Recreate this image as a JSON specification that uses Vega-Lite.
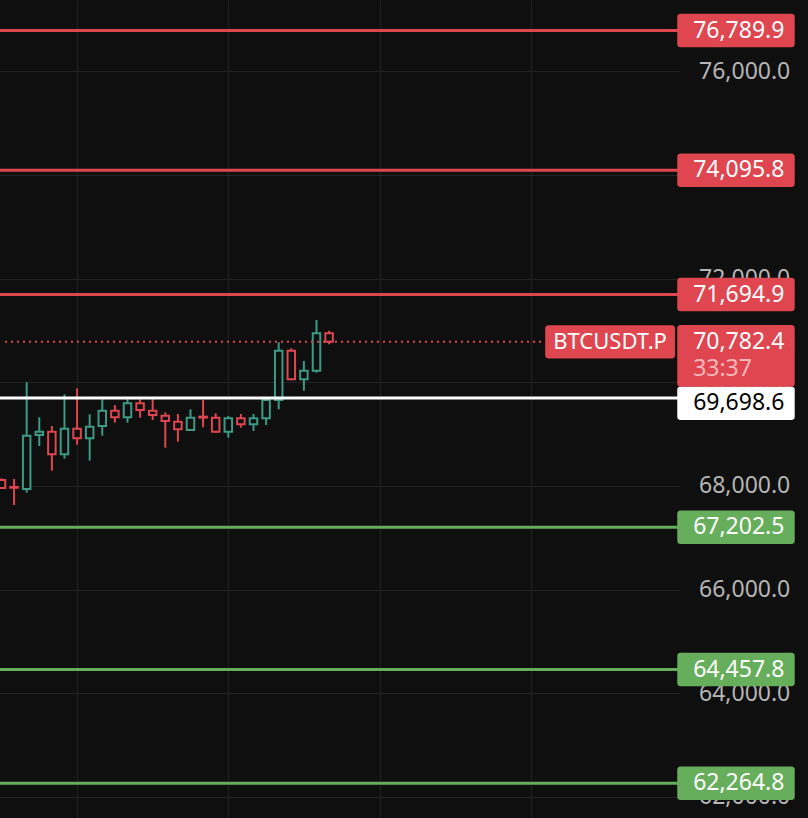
{
  "$schema": "https://vega.github.io/schema/vega-lite/v6.json",
  "width": 680,
  "height": 818,
  "autosize": {"type": "none"},
  "padding": {"left": 0, "top": 0, "right": 128, "bottom": 0},
  "background": "#0f0f0f",
  "config": {"view": {"stroke": null}},
  "datasets": {
    "candles": [
      {"t": 0, "open": 68116, "high": 68150, "low": 67950, "close": 67962},
      {"t": 1, "open": 67980, "high": 68135, "low": 67633, "close": 67965},
      {"t": 2, "open": 67942, "high": 70002, "low": 67871, "close": 68971},
      {"t": 3, "open": 68984, "high": 69326, "low": 68772, "close": 69048},
      {"t": 4, "open": 69048, "high": 69158, "low": 68295, "close": 68612},
      {"t": 5, "open": 68612, "high": 69770, "low": 68527, "close": 69106},
      {"t": 6, "open": 69106, "high": 69886, "low": 68797, "close": 68921},
      {"t": 7, "open": 68921, "high": 69384, "low": 68488, "close": 69145},
      {"t": 8, "open": 69158, "high": 69673, "low": 68971, "close": 69453},
      {"t": 9, "open": 69453, "high": 69563, "low": 69222, "close": 69326},
      {"t": 10, "open": 69326, "high": 69673, "low": 69222, "close": 69596},
      {"t": 11, "open": 69596, "high": 69673, "low": 69318, "close": 69467},
      {"t": 12, "open": 69453, "high": 69673, "low": 69274, "close": 69370},
      {"t": 13, "open": 69357, "high": 69423, "low": 68739, "close": 69255},
      {"t": 14, "open": 69241, "high": 69390, "low": 68855, "close": 69094},
      {"t": 15, "open": 69081, "high": 69480, "low": 69062, "close": 69318},
      {"t": 16, "open": 69338, "high": 69660, "low": 69133, "close": 69320},
      {"t": 17, "open": 69318, "high": 69403, "low": 69029, "close": 69048},
      {"t": 18, "open": 69048, "high": 69351, "low": 68932, "close": 69307},
      {"t": 19, "open": 69307, "high": 69390, "low": 69125, "close": 69191},
      {"t": 20, "open": 69191, "high": 69390, "low": 69062, "close": 69307},
      {"t": 21, "open": 69307, "high": 69693, "low": 69177, "close": 69660},
      {"t": 22, "open": 69660, "high": 70774, "low": 69480, "close": 70611},
      {"t": 23, "open": 70611, "high": 70658, "low": 70040, "close": 70059},
      {"t": 24, "open": 70059, "high": 70413, "low": 69839, "close": 70225},
      {"t": 25, "open": 70225, "high": 71204, "low": 70187, "close": 70947},
      {"t": 26, "open": 70947, "high": 70997, "low": 70735, "close": 70782.4}
    ],
    "levels": [
      {"price": 76789.9, "kind": "res"},
      {"price": 74095.8, "kind": "res"},
      {"price": 71694.9, "kind": "res"},
      {"price": 69698.6, "kind": "pivot"},
      {"price": 67202.5, "kind": "sup"},
      {"price": 64457.8, "kind": "sup"},
      {"price": 62264.8, "kind": "sup"}
    ],
    "last": [
      {"symbol": "BTCUSDT.P", "price": 70782.4, "timer": "33:37"}
    ]
  },
  "layer": [
    {
      "data": {"name": "candles"},
      "mark": {"type": "rule", "strokeWidth": 2, "clip": true},
      "encoding": {
        "x": {
          "field": "t", "type": "quantitative",
          "scale": {"domain": [0.28, 53.45], "nice": false, "zero": false},
          "axis": {"values": [6, 18, 30, 42], "labels": false, "ticks": false, "domain": false, "title": null, "grid": true, "gridColor": "#222222", "gridWidth": 1}
        },
        "y": {
          "field": "low", "type": "quantitative",
          "scale": {"domain": [61592, 77380], "nice": false, "zero": false},
          "axis": {
            "orient": "right", "values": [62000, 64000, 66000, 68000, 70000, 72000, 74000, 76000],
            "format": ",.1f", "title": null, "domain": false, "ticks": false,
            "labelPadding": 18.5, "labelFontSize": 23, "labelFont": "Noto Sans",
            "labelColor": "#b5b5b5", "labelAlign": "left", "labelBaseline": "middle",
            "grid": true, "gridColor": "#222222", "gridWidth": 1, "labelOverlap": false
          }
        },
        "y2": {"field": "high"},
        "stroke": {"condition": {"test": "datum.close >= datum.open", "value": "#3c9a85"}, "value": "#e0464f"}
      }
    },
    {
      "data": {"name": "candles"},
      "mark": {"type": "bar", "width": 7.5, "fill": "#0f0f0f", "strokeWidth": 2, "clip": true},
      "encoding": {
        "x": {"field": "t", "type": "quantitative", "title": null},
        "y": {"field": "open", "type": "quantitative", "title": null},
        "y2": {"field": "close"},
        "stroke": {"condition": {"test": "datum.close >= datum.open", "value": "#3c9a85"}, "value": "#e0464f"}
      }
    },
    {
      "data": {"name": "levels"},
      "mark": {"type": "rule", "strokeWidth": 3},
      "encoding": {
        "y": {"field": "price", "type": "quantitative", "title": null},
        "color": {"field": "kind", "type": "nominal", "legend": null,
          "scale": {"domain": ["res", "pivot", "sup"], "range": ["#e0464f", "#ffffff", "#66ae5b"]}}
      }
    },
    {
      "data": {"name": "last"},
      "mark": {"type": "rule", "strokeWidth": 2, "strokeDash": [2, 4], "color": "#e0464f"},
      "encoding": {
        "x": {"datum": 0.28, "type": "quantitative", "title": null},
        "x2": {"datum": 43.15},
        "y": {"field": "price", "type": "quantitative", "title": null}
      }
    },
    {
      "data": {"name": "levels"},
      "transform": [{"filter": "datum.kind != 'pivot'"}],
      "mark": {"type": "rect", "cornerRadius": 3, "yOffset": -16.75, "y2Offset": 16.75},
      "encoding": {
        "x": {"datum": 53.63, "type": "quantitative", "title": null},
        "x2": {"datum": 62.95},
        "y": {"field": "price", "type": "quantitative", "title": null},
        "y2": {"field": "price"},
        "color": {"field": "kind", "type": "nominal", "legend": null}
      }
    },
    {
      "data": {"name": "levels"},
      "transform": [{"filter": "datum.kind == 'pivot'"}],
      "mark": {"type": "rect", "cornerRadius": 3, "yOffset": -11.45, "y2Offset": 22.05, "color": "#ffffff"},
      "encoding": {
        "x": {"datum": 53.63, "type": "quantitative", "title": null},
        "x2": {"datum": 62.95},
        "y": {"field": "price", "type": "quantitative", "title": null},
        "y2": {"field": "price"}
      }
    },
    {
      "data": {"name": "last"},
      "mark": {"type": "rect", "cornerRadius": 3, "yOffset": -16.8, "y2Offset": 44.9, "color": "#e0464f"},
      "encoding": {
        "x": {"datum": 53.63, "type": "quantitative", "title": null},
        "x2": {"datum": 62.95},
        "y": {"field": "price", "type": "quantitative", "title": null},
        "y2": {"field": "price"}
      }
    },
    {
      "data": {"name": "last"},
      "mark": {"type": "rect", "cornerRadius": 3, "yOffset": -16.7, "y2Offset": 16.6, "color": "#e0464f"},
      "encoding": {
        "x": {"datum": 43.15, "type": "quantitative", "title": null},
        "x2": {"datum": 53.45},
        "y": {"field": "price", "type": "quantitative", "title": null},
        "y2": {"field": "price"}
      }
    },
    {
      "data": {"name": "levels"},
      "transform": [{"filter": "datum.kind != 'pivot'"}],
      "mark": {"type": "text", "align": "left", "baseline": "middle", "font": "Noto Sans", "fontSize": 23, "color": "#ffffff"},
      "encoding": {
        "x": {"datum": 54.89, "type": "quantitative", "title": null},
        "y": {"field": "price", "type": "quantitative", "title": null},
        "text": {"field": "price", "type": "quantitative", "format": ",.1f"}
      }
    },
    {
      "data": {"name": "levels"},
      "transform": [{"filter": "datum.kind == 'pivot'"}],
      "mark": {"type": "text", "align": "left", "baseline": "middle", "font": "Noto Sans", "fontSize": 23, "color": "#000000", "yOffset": 5.3},
      "encoding": {
        "x": {"datum": 54.89, "type": "quantitative", "title": null},
        "y": {"field": "price", "type": "quantitative", "title": null},
        "text": {"field": "price", "type": "quantitative", "format": ",.1f"}
      }
    },
    {
      "data": {"name": "last"},
      "mark": {"type": "text", "align": "left", "baseline": "middle", "font": "Noto Sans", "fontSize": 23, "color": "#ffffff"},
      "encoding": {
        "x": {"datum": 54.89, "type": "quantitative", "title": null},
        "y": {"field": "price", "type": "quantitative", "title": null},
        "text": {"field": "price", "type": "quantitative", "format": ",.1f"}
      }
    },
    {
      "data": {"name": "last"},
      "mark": {"type": "text", "align": "left", "baseline": "middle", "font": "Noto Sans", "fontSize": 23, "color": "#f4b8bb", "yOffset": 27.5},
      "encoding": {
        "x": {"datum": 54.89, "type": "quantitative", "title": null},
        "y": {"field": "price", "type": "quantitative", "title": null},
        "text": {"field": "timer", "type": "nominal"}
      }
    },
    {
      "data": {"name": "last"},
      "mark": {"type": "text", "align": "center", "baseline": "middle", "font": "Noto Sans", "fontSize": 22, "color": "#ffffff"},
      "encoding": {
        "x": {"datum": 48.3, "type": "quantitative", "title": null},
        "y": {"field": "price", "type": "quantitative", "title": null},
        "text": {"field": "symbol", "type": "nominal"}
      }
    }
  ]
}
